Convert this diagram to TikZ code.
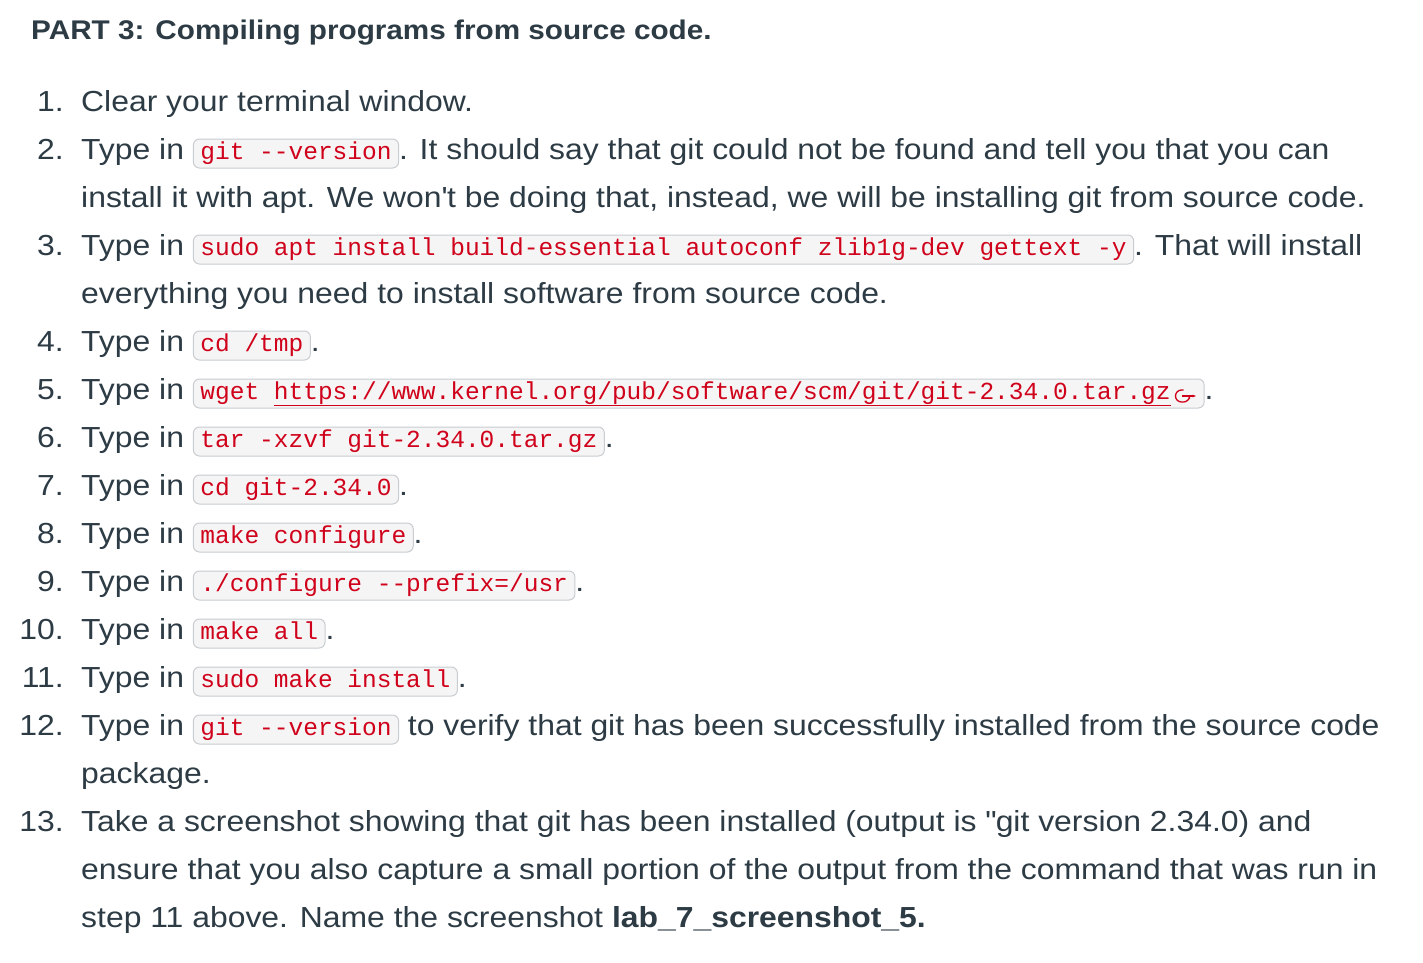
\documentclass[tikz,border=0pt]{standalone}
\usepackage{fontspec}
\setmainfont[FakeStretch=1.1]{Liberation Sans}
\setmonofont{Liberation Mono}
\usetikzlibrary{arrows.meta}
\definecolor{txt}{HTML}{2D3B45}
\definecolor{codered}{HTML}{D0021B}
\definecolor{codebg}{HTML}{F5F5F5}
\definecolor{codeline}{HTML}{C7CDD1}
\tikzset{
  line/.style={anchor=base west,inner sep=0pt,text=txt,font=\fontsize{29}{34}\selectfont},
  num/.style={anchor=base east,inner sep=0pt,text=txt,font=\fontsize{29}{34}\selectfont},
  code/.style={draw=codeline,fill=codebg,rounded corners=6pt,line width=1pt,text=codered,
    font=\ttfamily\fontsize{24.5}{28}\selectfont,inner xsep=7pt,text height=20pt,text depth=9pt}
}
\newcommand{\cb}[1]{\tikz[baseline=(cbx.base)]\node[code](cbx){#1};}
\newcommand{\extlink}{\tikz[baseline=-3pt,line width=1.3pt,codered]{\draw (8pt,6pt)--(0,6pt)--(0,-6pt)--(14pt,-6pt)--(14pt,-3pt); \draw[-{Latex[length=4pt]}] (6pt,0)--(21pt,0);}}
\begin{document}
\begin{tikzpicture}[x=1pt,y=-1pt]
\useasboundingbox[fill=white] (0,0) rectangle (1423,962);
\node[line,font=\bfseries\fontsize{27}{32}\selectfont] (title) at (31,39) {PART 3: Compiling programs from source code.};
\node[num] (n1) at (64,111) {1.};
\node[line] (l1) at (81,111) {Clear your terminal window.};
\node[num] (n2) at (64,159) {2.};
\node[line] (l2) at (81,159) {Type in \cb{git --version}. It should say that git could not be found and tell you that you can};
\node[line] (l2b) at (81,207) {install it with apt. We won\textquotesingle t be doing that, instead, we will be installing git from source code.};
\node[num] (n3) at (64,255) {3.};
\node[line] (l3) at (81,255) {Type in \cb{sudo apt install build-essential autoconf zlib1g-dev gettext -y}. That will install};
\node[line] (l3b) at (81,303) {everything you need to install software from source code.};
\node[num] (n4) at (64,351) {4.};
\node[line] (l4) at (81,351) {Type in \cb{cd /tmp}.};
\node[num] (n5) at (64,399) {5.};
\node[line] (l5) at (81,399) {Type in \cb{wget \underline{https://www.kernel.org/pub/software/scm/git/git-2.34.0.tar.gz}\,\extlink}.};
\node[num] (n6) at (64,447) {6.};
\node[line] (l6) at (81,447) {Type in \cb{tar -xzvf git-2.34.0.tar.gz}.};
\node[num] (n7) at (64,495) {7.};
\node[line] (l7) at (81,495) {Type in \cb{cd git-2.34.0}.};
\node[num] (n8) at (64,543) {8.};
\node[line] (l8) at (81,543) {Type in \cb{make configure}.};
\node[num] (n9) at (64,591) {9.};
\node[line] (l9) at (81,591) {Type in \cb{./configure --prefix=/usr}.};
\node[num] (n10) at (64,639) {10.};
\node[line] (l10) at (81,639) {Type in \cb{make all}.};
\node[num] (n11) at (64,687) {11.};
\node[line] (l11) at (81,687) {Type in \cb{sudo make install}.};
\node[num] (n12) at (64,735) {12.};
\node[line] (l12) at (81,735) {Type in \cb{git --version} to verify that git has been successfully installed from the source code};
\node[line] (l12b) at (81,783) {package.};
\node[num] (n13) at (64,831) {13.};
\node[line] (l13) at (81,831) {Take a screenshot showing that git has been installed (output is \textquotedbl git version 2.34.0) and};
\node[line] (l13b) at (81,879) {ensure that you also capture a small portion of the output from the command that was run in};
\node[line] (l13c) at (81,927) {step 11 above. Name the screenshot \textbf{lab\_7\_screenshot\_5.}};
\end{tikzpicture}
\end{document}
